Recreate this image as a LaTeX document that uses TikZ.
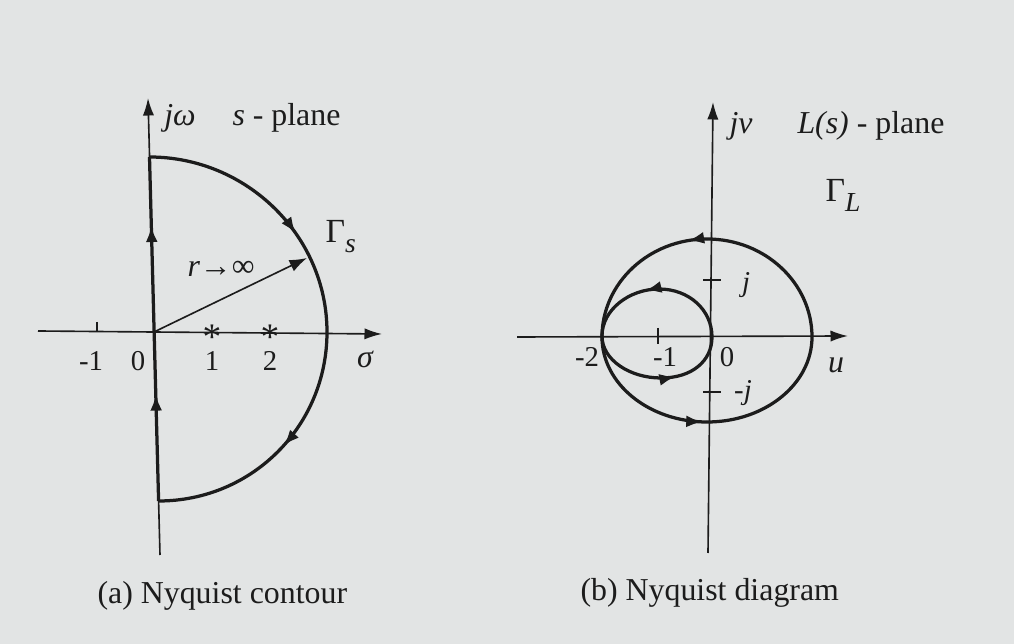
\documentclass[tikz,border=0pt]{standalone}
\usepackage{fontspec}
\setmainfont{Liberation Serif}
\usetikzlibrary{arrows.meta,decorations.markings}
\definecolor{bg}{RGB}{226,228,228}
\definecolor{ink}{RGB}{28,28,28}
\begin{document}
\begin{tikzpicture}[x=0.4pt,y=-0.4pt,
  axis/.style={draw=ink,line width=0.65pt},
  axarrow/.style={axis,-{Latex[length=7pt,width=4.5pt]}},
  contour/.style={draw=ink,line width=1.3pt},
  midarrow/.style={postaction={decorate},decoration={markings,
      mark=at position #1 with {\arrow{Latex[length=6.5pt,width=4.8pt]}}}},
  midarrows/.style 2 args={postaction={decorate},decoration={markings,
      mark=at position #1 with {\arrow{Latex[length=6.5pt,width=4.8pt]}},
      mark=at position #2 with {\arrow{Latex[length=6.5pt,width=4.8pt]}}}},
  lbl/.style={text=ink,inner sep=0pt,font=\fontsize{11.5}{13}\selectfont},
  star/.style={text=ink,inner sep=0pt,font=\fontsize{15}{16}\selectfont,
      text height=0.68em,text depth=-0.36em},
  big/.style={text=ink,inner sep=0pt,font=\fontsize{12.75}{15}\selectfont},
  gam/.style={text=ink,inner sep=0pt,font=\fontsize{13.5}{16}\selectfont}
]
\fill[bg] (0,0) rectangle (1014,644);
\useasboundingbox (0,0) rectangle (1014,644);

% ---------------- (a) Nyquist contour ----------------
\coordinate (O1) at (154,332);
\coordinate (xl) at (38,331);
\coordinate (xr) at (382,334);
\coordinate (yb) at (160,555);
\coordinate (yt) at (148,98);
\coordinate (T) at (149.5,157);
\coordinate (B) at (158.6,501);
\coordinate (R) at (327,332);
\coordinate (rt) at (307,258);
\coordinate (tka) at (97,322);
\coordinate (tkb) at (97,332);

\draw[axarrow] (xl) -- (xr);
\draw[axarrow] (yb) -- (yt);
\draw[axis] (tka) -- (tkb);
\draw[contour, midarrows={0.31}{0.80}] (B) -- (T);
\draw[contour, midarrow=0.62] (T) .. controls (247,157) and (327,236) .. (R);
\draw[contour, midarrow=0.47] (R) .. controls (327,426) and (252,501) .. (B);
\draw[draw=ink,line width=0.65pt,-{Latex[length=7pt,width=5pt]}] (O1) -- (rt);

\node[big,anchor=base] (jw) at (180,126) {\itshape jω};
\node[big,anchor=base west] (sp) at (232,126) {{\itshape s} - plane};
\node[gam,anchor=base west] (gs) at (325,243) {Γ\raisebox{-0.6ex}{\fontsize{11}{13}\selectfont\itshape s}};
\node[big,anchor=base] (rinf) at (221,277) {{\itshape r}→∞};
\node[lbl,anchor=base] (m1) at (91,371) {-1};
\node[lbl,anchor=base] (z1) at (138,371) {0};
\node[star] (p1) at (212,341) {*};
\node[star] (p2) at (270,341) {*};
\node[lbl,anchor=base] (one) at (212,371) {1};
\node[lbl,anchor=base] (two) at (270,371) {2};
\node[big,anchor=base] (sig) at (365,368) {\itshape σ};
\node[big,anchor=base west] (capa) at (97,604) {(a) Nyquist contour};

% ---------------- (b) Nyquist diagram ----------------
\coordinate (ul) at (517,337);
\coordinate (ur) at (848,336);
\coordinate (vb) at (708,553);
\coordinate (vt) at (713,102);
\coordinate (ja) at (703,280);
\coordinate (jb) at (721,280);
\coordinate (nja) at (703,392);
\coordinate (njb) at (721,392);
\coordinate (ma) at (658,328);
\coordinate (mb) at (658,344);

\draw[axarrow] (ul) -- (ur);
\draw[axarrow] (vb) -- (vt);
\draw[axis] (ja) -- (jb);
\draw[axis] (nja) -- (njb);
\draw[axis] (ma) -- (mb);

% outer curve Gamma_L
\coordinate (oR) at (812,337);
\coordinate (oT) at (707,239);
\coordinate (oL) at (602,337);
\coordinate (oB) at (707,422);
\draw[contour] (oR) .. controls (812,283) and (765,239) .. (oT);
\draw[contour, midarrow=0.12] (oT) .. controls (649,239) and (602,283) .. (oL);
\draw[contour, midarrow=0.97] (oL) .. controls (602,384) and (649,422) .. (oB);
\draw[contour] (oB) .. controls (765,422) and (812,384) .. (oR);

% inner loop
\coordinate (iR) at (712,337);
\coordinate (iT) at (659,289);
\coordinate (iL) at (602,336);
\coordinate (iB) at (661,378);
\draw[contour] (iR) .. controls (712,310) and (689,289) .. (iT);
\draw[contour, midarrow=0.17] (iT) .. controls (629,289) and (602,310) .. (iL);
\draw[contour] (iL) .. controls (602,360) and (630,378) .. (iB);
\draw[contour, midarrow=0.2] (iB) .. controls (692,378) and (712,361) .. (iR);

\node[big,anchor=base] (jv) at (741,134) {\itshape jv};
\node[big,anchor=base west] (lp) at (797,134) {{\itshape L(s)} - plane};
\node[gam,anchor=base west] (gl) at (825,202) {Γ\raisebox{-0.6ex}{\fontsize{11}{13}\selectfont\itshape L}};
\node[lbl,anchor=base] (jl) at (746,292) {\itshape j};
\node[lbl,anchor=base] (njl) at (743,400) {-{\itshape j}};
\node[lbl,anchor=base] (m2) at (587,367) {-2};
\node[lbl,anchor=base] (m1b) at (665,367) {-1};
\node[lbl,anchor=base] (z2) at (727,367) {0};
\node[big,anchor=base] (ul2) at (836,373) {\itshape u};
\node[big,anchor=base west] (capb) at (580,601) {(b) Nyquist diagram};
\end{tikzpicture}
\end{document}
